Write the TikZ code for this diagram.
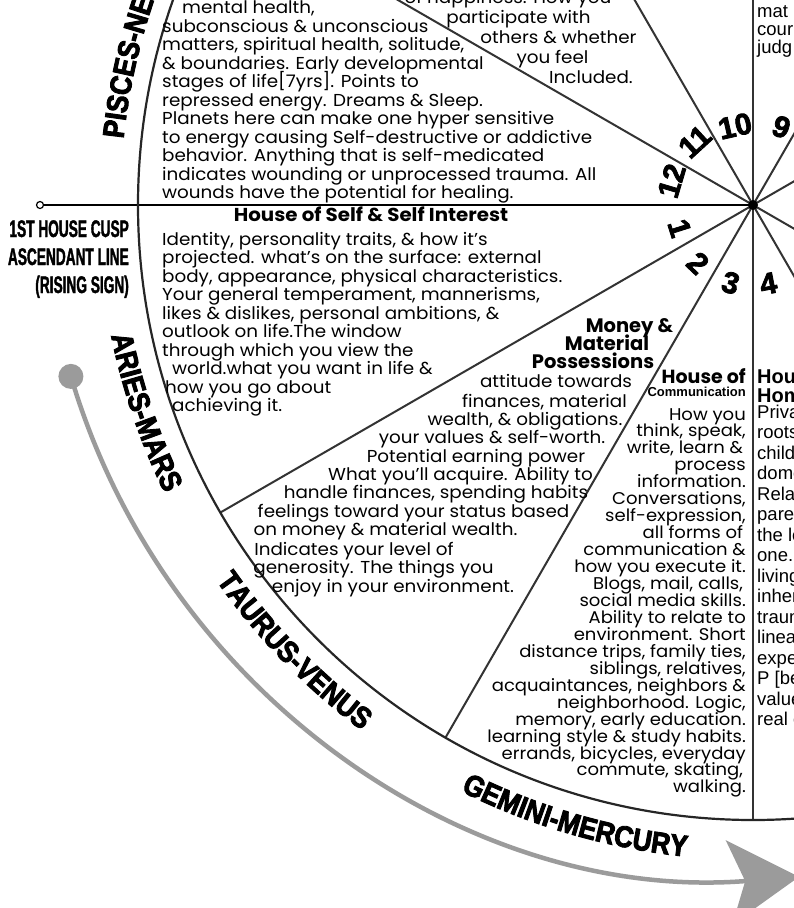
\documentclass[tikz,border=0pt]{standalone}
\usepackage{fontspec}
\setmainfont{Poppins}
\newfontfamily\bodyf[FakeStretch=1.06]{Poppins}
\newfontfamily\titlef{Poppins}
\newfontfamily\signf[FakeStretch=0.88,FakeBold=3]{Liberation Sans}
\newfontfamily\narrowf[FakeStretch=0.57,FakeBold=1.5]{Liberation Sans}
\newfontfamily\numf[FakeBold=2.5]{Liberation Sans}
\newfontfamily\arialf{Liberation Sans}
\usetikzlibrary{decorations.text,arrows.meta}
\definecolor{arrowgray}{HTML}{9B9B9B}
\definecolor{linegray}{HTML}{333333}
\tikzset{
  cusp/.style={draw=linegray, line width=2pt},
  ring/.style={draw=black!85, line width=2.2pt},
  body/.style={font=\bodyf\fontsize{17.3}{18.5}\selectfont, inner sep=0pt},
  bodys/.style={font=\bodyf\fontsize{17}{17}\selectfont, inner sep=0pt},
  title/.style={font=\bodyf\bfseries\fontsize{18.7}{19}\selectfont, inner sep=0pt},
  bigtitle/.style={font=\titlef\bfseries\fontsize{19.5}{20}\selectfont, inner sep=0pt},
  arialtxt/.style={font=\arialf\fontsize{18.5}{20}\selectfont, inner sep=0pt, anchor=base west},
  sidelabel/.style={font=\narrowf\bfseries\fontsize{24}{24}\selectfont, inner sep=0pt, anchor=base east},
  housenum/.style={font=\numf\bfseries\fontsize{30}{30}\selectfont, inner sep=0pt},
  signtext/.style={decorate, decoration={text along path, text align=left, text={|\signf\bfseries\fontsize{30}{30}\selectfont|#1}}}
}
\begin{document}
\begin{tikzpicture}[x=1pt,y=1pt]
\useasboundingbox (0,0) rectangle (794,-908);
\clip (0,0) rectangle (794,-908);
\fill[white] (0,0) rectangle (794,-908);
\coordinate (C) at (753,-205);

% gray arrow
\node[circle, fill=arrowgray, minimum size=25pt, inner sep=0pt] (gdot) at (70.9,-376.4) {};
\draw[arrowgray, line width=4.5pt, -{Stealth[length=70pt,width=84pt,inset=16pt]}] (gdot.center) arc[start angle=196.5, end angle=274.5, radius=702];

% house cusps
\begin{scope}[shift={(753,-205)}]
\foreach \a in {30,60,90,120,150,210,240,270,300,330}{
  \coordinate (cusp\a) at (\a:615);
}
\end{scope}
\foreach \a in {30,60,90,120,150,210,240,270,300,330}{
  \draw[cusp] (C) -- (cusp\a);
}
\node[circle, draw=black, fill=white, line width=1.2pt, minimum size=7pt, inner sep=0pt] (ascdot) at (40,-205) {};
\draw[cusp, line width=2.4pt, draw=black] (C) -- (ascdot.east);
\draw[ring] (C) circle[radius=615];
\fill[black] (C) circle[radius=5];

% sign labels
\begin{scope}[shift={(753,-205)}]
\path[signtext={PISCES-NEPTUNE}] (174:633) arc[start angle=174, end angle=140, radius=633];
\path[signtext={ARIES-MARS}] (191.5:655) arc[start angle=191.5, end angle=215, radius=655];
\path[signtext={TAURUS-VENUS}] (215:655) arc[start angle=215, end angle=240, radius=655];
\path[signtext={GEMINI-MERCURY}] (243.5:655) arc[start angle=243.5, end angle=272, radius=655];
% house numbers
\node[housenum, rotate=-72.5] (n1) at (197.5:77) {1};
\node[housenum, rotate=-43.5] (n2) at (226.5:80) {2};
\node[housenum, rotate=-16] (n3) at (254:81) {3};
\node[housenum, rotate=11] (n4) at (281:80) {4};
\node[housenum, rotate=-20] (n9) at (70:83) {9};
\node[housenum, rotate=12.8] (n10) at (102.8:81) {10};
\node[housenum, rotate=42.6] (n11) at (132.6:86) {11};
\node[housenum, rotate=73.5] (n12) at (163.5:85) {12};
\end{scope}

% side labels
\node[sidelabel] (cl1) at (129,-237) {1ST HOUSE CUSP};
\node[sidelabel] (cl2) at (129,-265) {ASCENDANT LINE};
\node[sidelabel] (cl3) at (129,-293) {(RISING SIGN)};

% House 12
\foreach \x/\y/\t [count=\i] in {
 182/13.5/{mental health,},
 162/32/{subconscious \& unconscious},
 162/50.5/{matters, spiritual health, solitude,},
 162/69/{\& boundaries. Early developmental},
 162/87.5/{stages of life[7yrs]. Points to},
 162/106/{repressed energy. Dreams \& Sleep.},
 162/124.5/{Planets here can make one hyper sensitive},
 162/143/{to energy causing Self-destructive or addictive},
 162/161.5/{behavior. Anything that is self-medicated},
 162/180/{indicates wounding or unprocessed trauma. All},
 162/198.5/{wounds have the potential for healing.}}{
  \node[body, anchor=base west] (ht\i) at (\x,-\y) {\t};
}

% House 11
\node[body, anchor=base] (hk1) at (508,-3) {of happiness. How you};
\node[body, anchor=base] (hk2) at (518.5,-23) {participate with};
\node[body, anchor=base] (hk3) at (558.5,-43) {others \& whether};
\node[body, anchor=base] (hk4) at (552.5,-63) {you feel};
\node[body, anchor=base] (hk5) at (591,-83) {Included.};

% House 1
\node[title, anchor=base] (h1t) at (371,-221) {House of Self \& Self Interest};
\foreach \x/\y/\t [count=\i] in {
 162/245/{Identity, personality traits, \& how it’s},
 162/263.5/{projected. what’s on the surface: external},
 162/282/{body, appearance, physical characteristics.},
 162/300.5/{Your general temperament, mannerisms,},
 162/319/{likes \& dislikes, personal ambitions, \&},
 162/337.5/{outlook on life.The window},
 162/356/{through which you view the},
 172/374.5/{world.what you want in life \&},
 165/393/{how you go about},
 172/411.5/{achieving it.}}{
  \node[body, anchor=base west] (ha\i) at (\x,-\y) {\t};
}

% House 2
\node[bigtitle, anchor=base] (h2t1) at (629.5,-332) {Money \&};
\node[bigtitle, anchor=base] (h2t2) at (607,-350) {Material};
\node[bigtitle, anchor=base] (h2t3) at (593,-368) {Possessions};
\foreach \x/\y/\t [count=\i] in {
 556/387/{attitude towards},
 544.5/407/{finances, material},
 525/425/{wealth, \& obligations.},
 492/443/{your values \& self-worth.},
 476/462/{Potential earning power},
 460.5/480/{What you’ll acquire. Ability to},
 436/498/{handle finances, spending habits},
 413.5/517/{feelings toward your status based},
 385.5/535/{on money \& material wealth.},
 354/555/{Indicates your level of},
 373.5/573/{generosity. The things you},
 393/592/{enjoy in your environment.}}{
  \node[body, anchor=base] (hb\i) at (\x,-\y) {\t};
}

% House 3
\node[font=\titlef\bfseries\fontsize{19}{19}\selectfont, inner sep=0pt, anchor=base east] (h3t1) at (746,-383) {House of};
\node[font=\arialf\bfseries\fontsize{13}{13}\selectfont, inner sep=0pt, anchor=base east] (h3t2) at (746,-396) {Communication};
\foreach \t [count=\i from 0] in {
 {How you},{think, speak,},{write, learn \&\,},{process},{information.},
 {Conversations,},{self-expression,},{all forms of\,},{communication \&},
 {how you execute it.},{Blogs, mail, calls,\,},{social media skills.},
 {Ability to relate to},{environment. Short},{distance trips, family ties,},
 {siblings, relatives,},{acquaintances, neighbors \&},{neighborhood. Logic,},
 {memory, early education.},{learning style \& study habits.},
 {errands, bicycles, everyday},{commute, skating,\,},{walking.}}{
  \node[bodys, anchor=base east] (hc\i) at (746,{-(420+16.95*\i)}) {\t};
}

% House 4 (partial column)
\node[font=\arialf\bfseries\fontsize{20}{20}\selectfont, inner sep=0pt, anchor=base west] (h4t1) at (757,-383) {Hous};
\node[font=\arialf\bfseries\fontsize{20}{20}\selectfont, inner sep=0pt, anchor=base west] (h4t2) at (757,-402) {Hom};
\foreach \t [count=\i from 0] in {
 {Priva},{roots},{childh},{dome},{Relat},{pare},{the le},{one.},
 {living},{inher},{traum},{linea},{expe},{P [be},{value},{real e}}{
  \node[arialtxt] (hd\i) at (757,{-(418+20.5*\i)}) {\t};
}

% House 10 (partial column)
\node[arialtxt] (hx1) at (757,-17) {mat};
\node[arialtxt] (hx2) at (757,-35) {cour};
\node[arialtxt] (hx3) at (757,-53) {judg};
\end{tikzpicture}
\end{document}
